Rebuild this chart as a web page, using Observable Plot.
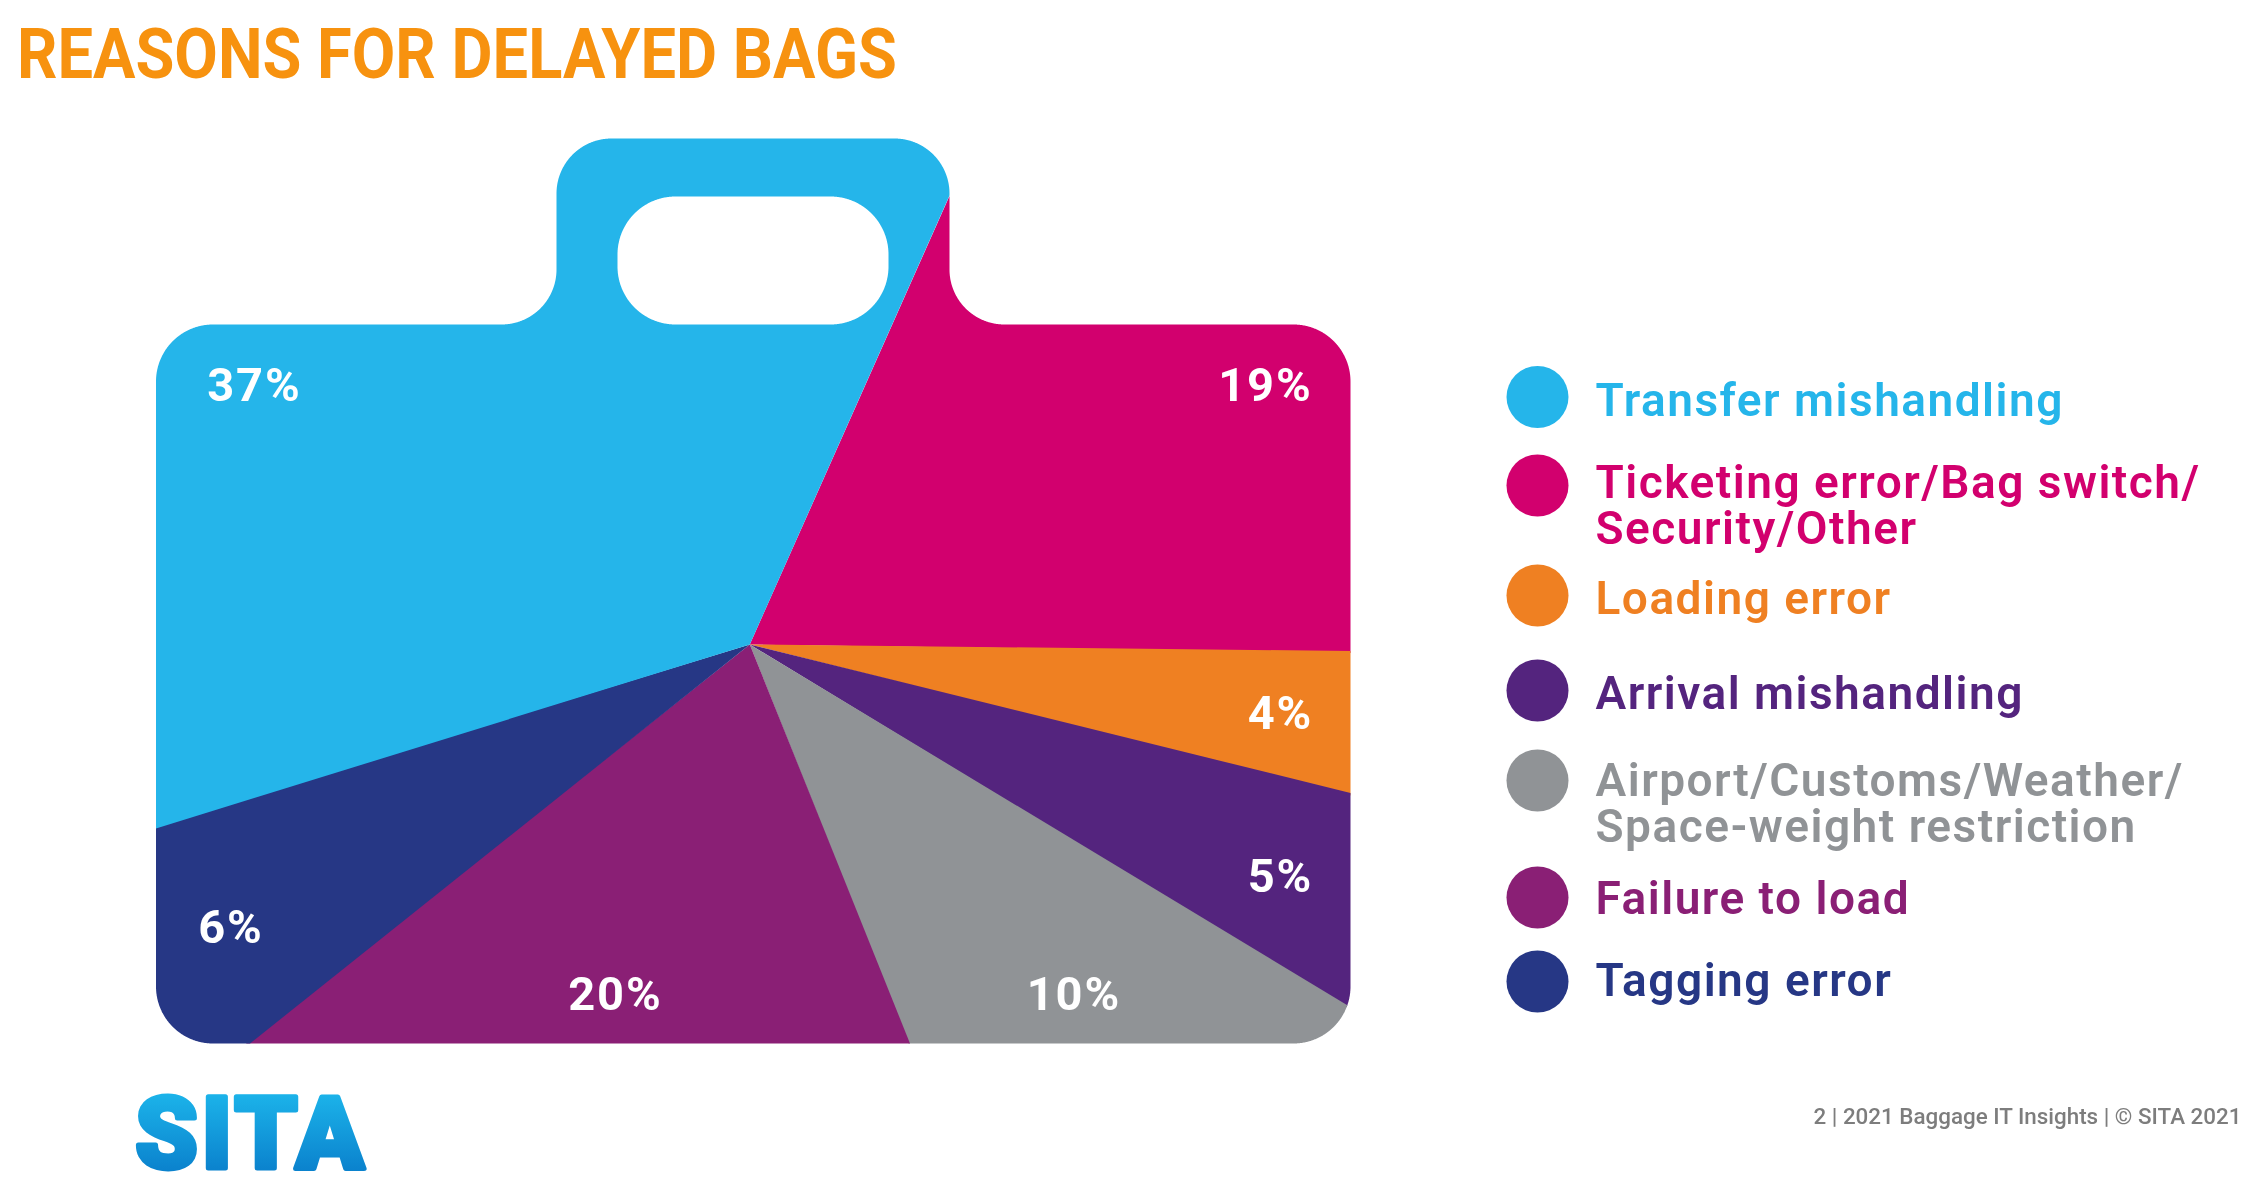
<!DOCTYPE html>
<html><head><meta charset="utf-8">
<script src="https://cdn.jsdelivr.net/npm/d3@7"></script>
<script src="https://cdn.jsdelivr.net/npm/@observablehq/plot@0.6"></script>
<style>
html,body{margin:0;padding:0;background:#fff;overflow:hidden}
#title{height:100px;position:relative;overflow:visible;filter:blur(.7px)}
#title h1{position:absolute;left:17px;top:19px;margin:0;font:700 70px/70px Roboto,sans-serif;color:#f7920f;white-space:nowrap;transform-origin:left top;transform:scaleX(.9026)}
#chart svg{filter:blur(.7px)}
g[font-size="46"] text{letter-spacing:1.5px}
g[font-size="47"] text{letter-spacing:2px}
g[font-size="100"] text{letter-spacing:4px}
</style></head><body>
<div id="title"><h1>REASONS FOR DELAYED BAGS</h1></div>
<div id="chart"></div>
<script>
// ---- data ----
const categories = ["Transfer mishandling","Ticketing error/Bag switch/\nSecurity/Other","Loading error","Arrival mishandling","Airport/Customs/Weather/\nSpace-weight restriction","Failure to load","Tagging error"];
const printed   = [37,19,4,5,10,20,6];                  // printed percentages
const sliceOrder = [1,2,3,4,5,6,0];                     // clockwise from the handle
const drawnShare = [36.42,18.53,3.69,4.78,10.28,20.36,5.94];   // sweep read from the drawn wedges
const colours = ["#25b5ea","#d2006e","#ef8022","#54247e","#909396","#8a1f75","#263785"];

// ---- layout ----
const W=2260,H=1192,TOP=100;
const hub={x:749.3,y:644}, startDeg=24;
const labelX=[254,1265,1280,1280,1073.5,615,230.5], labelY=[385,385,713,876,994,994,927];
const legendDotY=[396.5,485,595,690,780,897,981], legendBase=[415,543,613,708,841,913,995];

// outline of the suitcase, sampled clockwise
function seg(p,q){const n=Math.ceil(Math.hypot(q[0]-p[0],q[1]-p[1])*2),o=[];for(let i=0;i<=n;i++)o.push([p[0]+(q[0]-p[0])*i/n,p[1]+(q[1]-p[1])*i/n]);return o;}
function arc(cx,cy,r,a0,a1){const n=160,o=[];for(let i=0;i<=n;i++){const a=(a0+(a1-a0)*i/n)*Math.PI/180;o.push([cx+r*Math.cos(a),cy+r*Math.sin(a)]);}return o;}
const hL=556,hR=949,hT=138,hr=55,bL=155.5,bR=1350,bT=324,bB=1043,br=57,fr=55;
const outline=[
 ...seg([hL+hr,hT],[hR-hr,hT]),...arc(hR-hr,hT+hr,hr,-90,0),
 ...seg([hR,hT+hr],[hR,bT-fr]),...arc(hR+fr,bT-fr,fr,180,90),
 ...seg([hR+fr,bT],[bR-br,bT]),...arc(bR-br,bT+br,br,-90,0),
 ...seg([bR,bT+br],[bR,bB-br]),...arc(bR-br,bB-br,br,0,90),
 ...seg([bR-br,bB],[bL+br,bB]),...arc(bL+br,bB-br,br,90,180),
 ...seg([bL,bB-br],[bL,bT+br]),...arc(bL+br,bT+br,br,180,270),
 ...seg([bL+br,bT],[hL-fr,bT]),...arc(hL-fr,bT-fr,fr,90,0),
 ...seg([hL,bT-fr],[hL,hT+hr]),...arc(hL+hr,hT+hr,hr,180,270)
];
const rel=p=>{let a=Math.atan2(p[0]-hub.x,hub.y-p[1])*180/Math.PI-startDeg;return (a+720)%360;};
const total=d3.sum(drawnShare);
let cum=0;
const slicePts=[];
for(const i of sliceOrder){
  const a0=cum, a1=cum+drawnShare[i]/total*360; cum=a1;
  const pts=outline.map(p=>({p,a:rel(p)})).filter(d=>d.a>=a0-.12&&d.a<=a1+.12).sort((u,v)=>u.a-v.a);
  slicePts.push({x:hub.x,y:hub.y,cat:categories[i]});
  for(const d of pts) slicePts.push({x:d.p[0],y:d.p[1],cat:categories[i]});
}
// handle opening
const oL=617,oR=888,oT=196,oB=324,or=58;
const hole=[...seg([oL+or,oT],[oR-or,oT]),...arc(oR-or,oT+or,or,-90,0),...seg([oR,oT+or],[oR,oB-or]),...arc(oR-or,oB-or,or,0,90),
  ...seg([oR-or,oB],[oL+or,oB]),...arc(oL+or,oB-or,or,90,180),...seg([oL,oB-or],[oL,oT+or]),...arc(oL+or,oT+or,or,180,270)].map(p=>({x:p[0],y:p[1]}));

const pctRows=printed.map((v,i)=>({t:v+"%",x:labelX[i],y:labelY[i]}));
const legendRows=categories.map((c,i)=>({cat:c,y:legendDotY[i],b:legendBase[i]}));

const grad=()=>{const s=document.createElementNS("http://www.w3.org/2000/svg","defs");
 s.innerHTML='<linearGradient id="sitaGrad" x1="0" y1="0" x2="0" y2="1"><stop offset="0.15" stop-color="#1cb4ea"/><stop offset="0.85" stop-color="#0a80cc"/></linearGradient>';return s;};

const plot=Plot.plot({
  width:W,height:H-TOP,margin:0,
  x:{domain:[0,W],range:[0,W],axis:null},
  y:{domain:[TOP,H],range:[0,H-TOP],axis:null},
  color:{domain:categories,range:colours},
  style:{background:"#fff",fontFamily:"Roboto,sans-serif"},
  marks:[
    grad,
    Plot.line(slicePts,{x:"x",y:"y",z:"cat",fill:"cat",stroke:"none"}),
    Plot.line(hole,{x:"x",y:"y",fill:"#fff",stroke:"none"}),
    Plot.text(pctRows,{x:"x",y:"y",text:"t",fill:"#fff",fontSize:47,fontWeight:700,fontFamily:"Roboto,sans-serif"}),
    Plot.dot(legendRows,{x:()=>1537,y:"y",r:31,fill:"cat",stroke:"none"}),
    Plot.text(legendRows,{x:()=>1595,y:"b",text:"cat",fill:"cat",textAnchor:"start",lineAnchor:"bottom",lineHeight:1,fontSize:46,fontWeight:600,fontFamily:"Roboto,sans-serif"}),
    Plot.text(["SITA"],{x:()=>251,y:()=>1167,text:d=>d,fill:"url(#sitaGrad)",stroke:"url(#sitaGrad)",strokeWidth:5,textAnchor:"middle",lineAnchor:"bottom",fontSize:100,fontWeight:900,fontFamily:"Roboto,sans-serif"}),
    Plot.text(["2 | 2021 Baggage IT Insights | © SITA 2021"],{x:()=>2241,y:()=>1123,text:d=>d,fill:"#7d7d7d",textAnchor:"end",lineAnchor:"bottom",fontSize:22.4,fontWeight:500,fontFamily:"Roboto,sans-serif"})
  ]
});
document.getElementById("chart").appendChild(plot);
</script></body></html>
